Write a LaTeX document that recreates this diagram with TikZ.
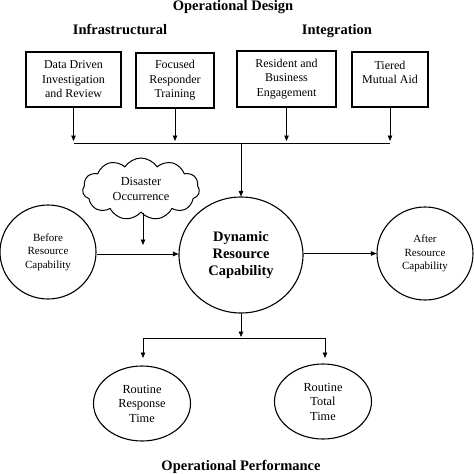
\documentclass[tikz,border=0pt]{standalone}
\usepackage{fontspec}
\setmainfont{Liberation Serif}
\usetikzlibrary{arrows.meta,shapes.symbols,shapes.geometric}
\begin{document}
\begin{tikzpicture}[x=1pt,y=-1pt,
  boxnode/.style={draw,line width=1.1pt,align=center,inner sep=0pt,
    font=\fontsize{12}{14.5}\selectfont},
  ovalnode/.style={draw,ellipse,line width=1.1pt,align=center,inner sep=0pt},
  smalltext/.style={font=\fontsize{11}{13.5}\selectfont},
  midtext/.style={font=\fontsize{12.3}{14.5}\selectfont},
  header/.style={anchor=base,font=\fontsize{14.5}{17}\selectfont\bfseries},
  conn/.style={line width=0.8pt},
  arr/.style={line width=0.8pt,-{Triangle[length=5.5pt,width=4.5pt]}}]
\useasboundingbox (0,0) rectangle (474,474);

% headers
\node[header] (hdesign) at (233,10.5) {Operational Design};
\node[header] (hinfra) at (120,34) {Infrastructural};
\node[header] (hinteg) at (337,34) {Integration};
\node[header] (hperf) at (241,470) {Operational Performance};

% boxes
\node[boxnode,minimum width=95pt,minimum height=55pt] (b1) at (73.5,79.5) {Data Driven\\Investigation\\and Review};
\node[boxnode,minimum width=78pt,minimum height=55pt] (b2) at (175,80.5) {Focused\\Responder\\Training};
\node[boxnode,minimum width=99pt,minimum height=56pt] (b3) at (286.5,79) {Resident and\\Business\\Engagement};
\node[boxnode,minimum width=76pt,minimum height=55pt] (b4) at (390,79.5) {Tiered\\Mutual Aid\\\mbox{}};

% junction coordinates
\coordinate (hl) at (73.5,143);
\coordinate (hr) at (390,143);
\coordinate (hm) at (241,143);
\coordinate (t1) at (73.5,141);
\coordinate (t2) at (175,141);
\coordinate (t3) at (286.5,141);
\coordinate (t4) at (390,141);

\draw[arr] (b1.south) -- (t1);
\draw[arr] (b2.south) -- (t2);
\draw[arr] (b3.south) -- (t3);
\draw[arr] (b4.south) -- (t4);
\draw[conn] (hl) -- (hr);

% central and side circles
\node[ovalnode,minimum width=124pt,minimum height=116pt,
  font=\fontsize{14.5}{17}\selectfont\bfseries] (dyn) at (241,255) {Dynamic\\Resource\\Capability};
\node[ovalnode,smalltext,minimum width=96pt,minimum height=94pt] (before) at (48,252) {Before\\Resource\\Capability};
\node[ovalnode,smalltext,minimum width=96pt,minimum height=93pt] (after) at (425,253.5) {After\\Resource\\Capability};

\draw[arr] (hm) -- (dyn.north);

% cloud
\node[cloud,draw,line width=1pt,cloud puffs=11,cloud puff arc=115,aspect=1.9,
  minimum width=117pt,minimum height=62pt,inner sep=0pt,align=center,midtext] (cloud) at (141,189) {Disaster\\Occurrence};
\coordinate (ct) at (143,245);
\draw[arr] (cloud.south -| ct) -- (ct);

\draw[arr] (before.east |- 0,254) -- (dyn.west |- 0,254);
\draw[arr] (dyn.east |- 0,253.5) -- (after.west);

% bottom
\coordinate (bm) at (241,337);
\coordinate (bl) at (143,338);
\coordinate (br) at (325,338);
\coordinate (bl2) at (143,358);
\coordinate (br2) at (325,358);
\draw[arr] (dyn.south) -- (bm);
\draw[conn] (bl) -- (br);
\draw[arr] (bl) -- (bl2);
\draw[arr] (br) -- (br2);

\node[ovalnode,midtext,minimum width=97pt,minimum height=75pt] (rrt) at (142,403.5) {Routine\\Response\\Time};
\node[ovalnode,midtext,minimum width=97pt,minimum height=75pt] (rtt) at (323,401.5) {Routine\\Total\\Time};
\end{tikzpicture}
\end{document}
